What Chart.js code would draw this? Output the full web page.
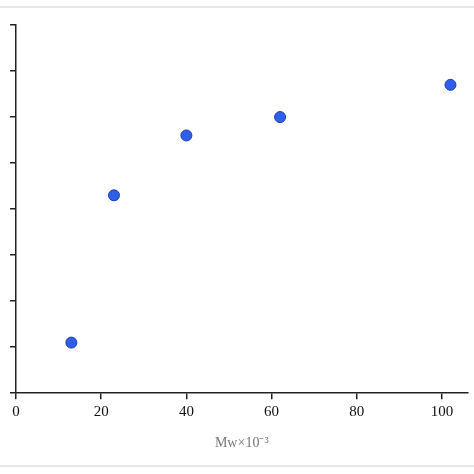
<!DOCTYPE html><html><head><style>
html,body{margin:0;padding:0;background:#fff;}
#wrap{position:absolute;left:0;top:0;width:474px;height:474px;}
.ln{position:absolute;left:0;width:474px;height:2px;background:#e6e6e6;}
</style><script src="https://cdn.jsdelivr.net/npm/chart.js@4"></script></head><body>
<div id="wrap"><canvas id="c" width="474" height="474"></canvas></div>
<div class="ln" style="top:6px"></div><div class="ln" style="top:465px"></div>
<script>
const xValues=[13,23,40,62,102];
const yValues=[1.1,4.3,5.6,6.0,6.7];
const xTicks=[0,20,40,60,80,100];
const xTitle='Mw×10⁻³';
new Chart(document.getElementById('c'),{type:'scatter',
data:{datasets:[{data:xValues.map((x,i)=>({x,y:yValues[i]})),backgroundColor:'#2f5fe8',borderColor:'#1a3cb0',borderWidth:1,pointRadius:5.5}]},
options:{responsive:false,animation:false,
layout:{padding:{left:10,top:25,right:0,bottom:18}},
plugins:{legend:{display:false},tooltip:{enabled:false}},
scales:{
x:{type:'linear',min:0,max:106,afterBuildTicks:a=>{a.ticks=xTicks.map(v=>({value:v}));},
border:{color:'#222',width:1.5},grid:{display:true,drawOnChartArea:false,color:'#222',tickLength:6,lineWidth:1.5},
ticks:{color:'#111',font:{family:'Liberation Serif',size:15},padding:4},
title:{display:true,text:xTitle,color:'#777',font:{family:'Liberation Serif',size:14},padding:{top:10}}},
y:{min:0,max:8,ticks:{display:false,stepSize:1},
border:{color:'#222',width:1.5},grid:{display:true,drawOnChartArea:false,color:'#222',tickLength:6,lineWidth:1.5}}}}});
</script></body></html>
